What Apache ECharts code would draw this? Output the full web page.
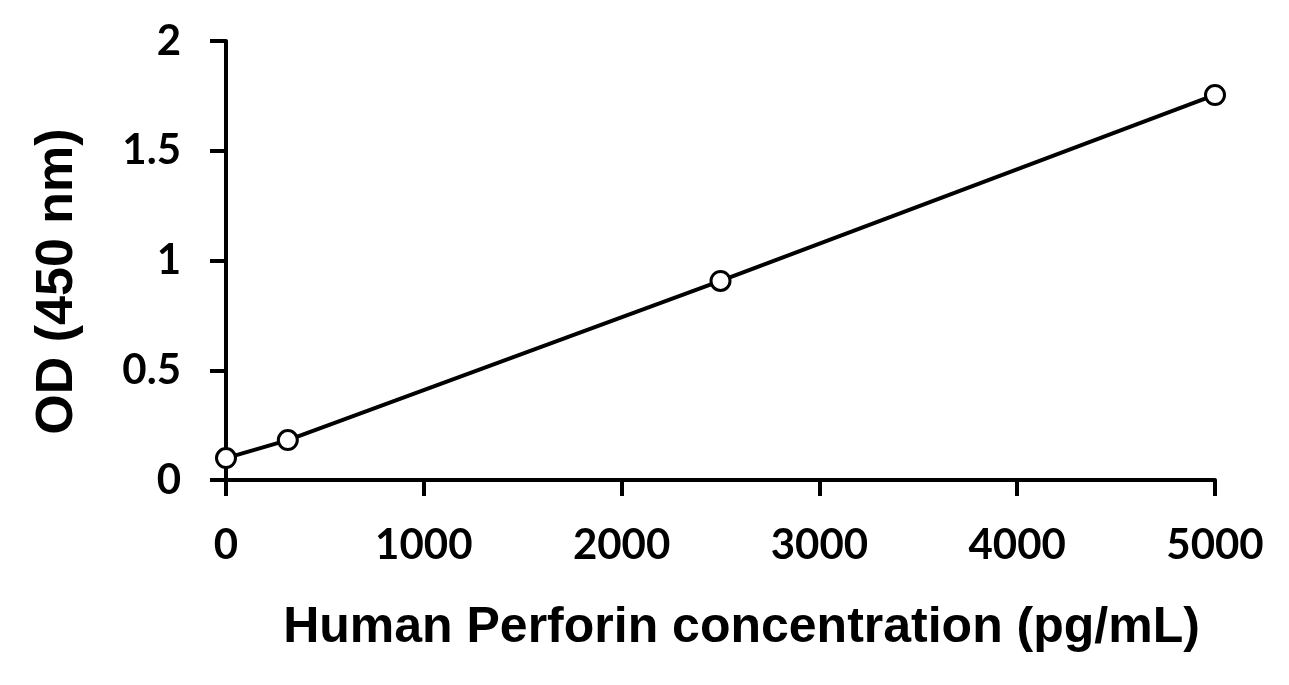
<!DOCTYPE html>
<html><head><meta charset="utf-8">
<script src="https://cdn.jsdelivr.net/npm/echarts@6/dist/echarts.min.js"></script>
<style>html,body{margin:0;padding:0;background:#fff}#c{width:1289px;height:685px}</style>
</head><body><div id="c"></div>
<script>
const concentrations = [0, 312.5, 2500, 5000];
const odValues = [0.100, 0.182, 0.907, 1.754];
const xTicks = [0, 1000, 2000, 3000, 4000, 5000];
const yTicks = [0, 0.5, 1, 1.5, 2];
const xTitle = 'Human Perforin concentration (pg/mL)';
const yTitle = 'OD (450 nm)';

const chart = echarts.init(document.getElementById('c'));
const lab = {color:'#000', fontFamily:'Lato', fontWeight:'bold', fontSize:42};
chart.setOption({
  animation:false,
  backgroundColor:'#fff',
  grid:{left:226, right:74, top:41, bottom:205, containLabel:false},
  xAxis:{type:'value', min:xTicks[0], max:xTicks[xTicks.length-1], interval:xTicks[1]-xTicks[0],
    axisLine:{show:true, onZero:false, lineStyle:{color:'#000', width:4}},
    axisTick:{show:true, inside:false, length:16, lineStyle:{color:'#000', width:4}},
    splitLine:{show:false},
    axisLabel:Object.assign({margin:44, formatter:v=>String(v)}, lab),
    name:xTitle, nameLocation:'middle', nameGap:123,
    nameTextStyle:{color:'#000', fontFamily:'Liberation Sans', fontWeight:'bold', fontSize:50, padding:[0,0,0,42]}
  },
  yAxis:{type:'value', min:yTicks[0], max:yTicks[yTicks.length-1], interval:yTicks[1]-yTicks[0],
    axisLine:{show:true, onZero:false, lineStyle:{color:'#000', width:4}},
    axisTick:{show:true, inside:false, length:16, lineStyle:{color:'#000', width:4}},
    splitLine:{show:false},
    axisLabel:Object.assign({margin:45, formatter:v=>String(v)}, lab),
    name:yTitle, nameLocation:'middle', nameGap:142, nameRotate:90,
    nameTextStyle:{color:'#000', fontFamily:'Liberation Sans', fontWeight:'bold', fontSize:52, padding:[0,42,0,0]}
  },
  series:[{type:'line', data:concentrations.map((x,i)=>[x, odValues[i]]),
    symbol:'circle', symbolSize:19, showAllSymbol:true,
    lineStyle:{color:'#000', width:4},
    itemStyle:{color:'#fff', borderColor:'#000', borderWidth:3},
    z:3
  }]
});
</script></body></html>
